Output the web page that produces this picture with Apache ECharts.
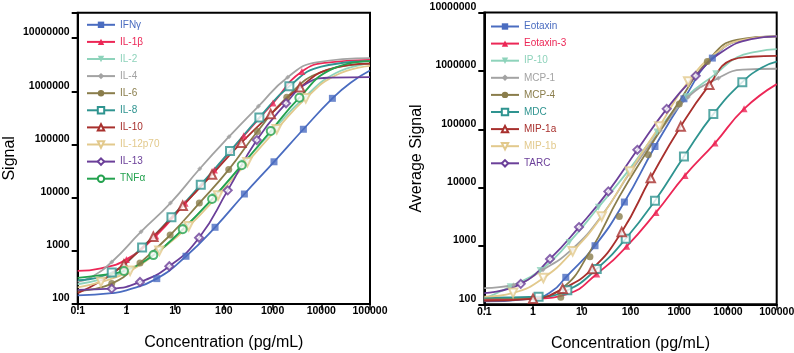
<!DOCTYPE html>
<html>
<head>
<meta charset="utf-8">
<script src="https://cdn.jsdelivr.net/npm/echarts@6/dist/echarts.min.js"></script>
<style>
  html, body { margin: 0; padding: 0; background: #fff; }
  #chart { width: 794px; height: 353px; }
</style>
</head>
<body>
<div id="chart"></div>
<script>
// x ticks (pg/mL) and y ticks, both log axes
const xTicks = [0.1, 1, 10, 100, 1000, 10000, 100000]
const yTicks = [100, 1000, 10000, 100000, 1000000, 10000000]

// ---- left panel: cytokines ----
const leftNames = ['IFNγ', 'IL-1β', 'IL-2', 'IL-4', 'IL-6', 'IL-8', 'IL-10', 'IL-12p70', 'IL-13', 'TNFα']

const ifngPts = [[4.2, 300], [16.7, 790], [66, 2770], [264, 11700], [1070, 47200], [4290, 193000], [16900, 736000]]
const ifngFit = [[0.1, 145], [0.5, 160], [1, 180], [4.2, 300], [16.7, 790], [66, 2770], [264, 11700], [1070, 47200], [4290, 193000], [16900, 736000], [40000, 1450000], [100000, 2450000]]

const il1bPts = [[1, 690], [4, 1900], [16, 7800], [64, 33000], [256, 145000], [1024, 600000], [4000, 2350000]]
const il1bFit = [[0.1, 420], [0.3, 470], [1, 690], [4, 1900], [16, 7800], [64, 33000], [256, 145000], [1024, 600000], [4000, 2350000], [15000, 3500000], [100000, 3900000]]

const il2Pts = [[1, 420], [4, 900], [16, 2800], [64, 10500], [256, 45000], [1024, 185000], [4096, 700000]]
const il2Fit = [[0.1, 235], [0.3, 290], [1, 420], [4, 900], [16, 2800], [64, 10500], [256, 45000], [1024, 185000], [4096, 700000], [20000, 2200000], [100000, 3300000]]

const il4Pts = [[0.5, 617], [2, 2290], [8, 7900], [32, 34900], [128, 140000], [512, 520000], [2048, 1840000]]
const il4Fit = [[0.1, 260], [0.2, 330], [0.5, 617], [2, 2290], [8, 7900], [32, 34900], [128, 140000], [512, 520000], [2048, 1840000], [8000, 3500000], [100000, 4200000]]

const il6Pts = [[0.5, 242], [1.9, 593], [7.9, 1980], [31.4, 7900], [126, 33700], [488, 175000], [1960, 769000]]
const il6Fit = [[0.1, 175], [0.5, 242], [1.9, 593], [7.9, 1980], [31.4, 7900], [126, 33700], [488, 175000], [1960, 769000], [10000, 2300000], [100000, 3300000]]

const il8Pts = [[0.5, 390], [2.1, 1160], [8.4, 4290], [33.6, 17500], [134, 75000], [536, 322000], [2210, 1240000]]
const il8Fit = [[0.1, 280], [0.5, 390], [2.1, 1160], [8.4, 4290], [33.6, 17500], [134, 75000], [536, 322000], [2210, 1240000], [10000, 2900000], [100000, 3700000]]

const il10Pts = [[0.89, 553], [3.57, 1840], [14.3, 7030], [57.3, 27200], [229, 108000], [918, 372000], [3670, 1190000]]
const il10Fit = [[0.1, 160], [0.3, 270], [0.89, 553], [3.57, 1840], [14.3, 7030], [57.3, 27200], [229, 108000], [918, 372000], [3670, 1190000], [15000, 2600000], [100000, 3300000]]

const il12Pts = [[0.3, 260], [1.19, 420], [4.75, 1000], [19, 2900], [76, 11000], [304, 46500], [1220, 193000], [4810, 736000]]
const il12Fit = [[0.1, 205], [0.3, 260], [1.19, 420], [4.75, 1000], [19, 2900], [76, 11000], [304, 46500], [1220, 193000], [4810, 736000], [20000, 2000000], [100000, 3000000]]

const il13Pts = [[0.5, 194], [1.9, 259], [7.6, 513], [31, 1760], [120, 13700], [474, 121000], [1890, 593000]]
const il13Fit = [[0.1, 185], [0.5, 194], [1.9, 259], [7.6, 513], [31, 1760], [120, 13700], [474, 121000], [1890, 593000], [5000, 1400000], [15000, 1800000], [100000, 1850000]]

const tnfaPts = [[0.89, 418], [3.57, 830], [14.3, 2540], [57.3, 9400], [233, 40700], [918, 179000], [3550, 757000]]
const tnfaFit = [[0.1, 310], [0.3, 350], [0.89, 418], [3.57, 830], [14.3, 2540], [57.3, 9400], [233, 40700], [918, 179000], [3550, 757000], [15000, 2500000], [100000, 3700000]]

// ---- right panel: chemokines ----
const rightNames = ['Eotaxin', 'Eotaxin-3', 'IP-10', 'MCP-1', 'MCP-4', 'MDC', 'MIP-1a', 'MIP-1b', 'TARC']

const eotaxinPts = [[4.7, 290], [18.7, 1010], [75, 5660], [318, 50700], [1250, 333000], [4780, 1660000]]
const eotaxinFit = [[0.1, 112], [1, 125], [2.5, 170], [4.7, 290], [18.7, 1010], [75, 5660], [318, 50700], [1250, 333000], [4780, 1660000], [20000, 3400000], [100000, 3900000]]

const eotaxin3Pts = [[20.3, 331], [83.5, 985], [334, 3760], [1316, 16200], [5420, 58100], [21400, 224000]]
const eotaxin3Fit = [[0.1, 120], [1, 125], [5, 150], [20.3, 331], [83.5, 985], [334, 3760], [1316, 16200], [5420, 58100], [21400, 224000], [100000, 594000]]

const ip10Pts = [[0.34, 200], [1.4, 380], [5.5, 1150], [22, 4600], [88, 19000], [350, 90000], [1400, 360000], [5610, 891000]]
const ip10Fit = [[0.1, 125], [0.34, 200], [1.4, 380], [5.5, 1150], [22, 4600], [88, 19000], [350, 90000], [1400, 360000], [5610, 891000], [15000, 1700000], [40000, 2150000], [100000, 2360000]]

const mcp1Pts = [[0.4, 215], [1.6, 390], [6.4, 890], [25.6, 3300], [102, 19000], [410, 95000], [1530, 357000], [6340, 753000]]
const mcp1Fit = [[0.1, 190], [0.4, 215], [1.6, 390], [6.4, 890], [25.6, 3300], [102, 19000], [410, 95000], [1530, 357000], [6340, 753000], [20000, 1050000], [100000, 1090000]]

const mcp4Pts = [[3.7, 132], [14.7, 650], [58.9, 3210], [232, 36600], [1000, 270000], [3770, 1450000]]
const mcp4Fit = [[0.1, 125], [1, 130], [3.7, 180], [14.7, 800], [58.9, 7000], [232, 45000], [1000, 300000], [3770, 1450000], [15000, 3400000], [100000, 3900000]]

const mdcPts = [[1.3, 135], [5.05, 174], [20.3, 404], [79.8, 1330], [318, 5970], [1250, 34200], [5010, 182000], [19700, 643000]]
const mdcFit = [[0.1, 130], [1.3, 135], [5.05, 174], [20.3, 404], [79.8, 1330], [318, 5970], [1250, 34200], [5010, 182000], [19700, 643000], [50000, 1150000], [100000, 1450000]]

const mip1aPts = [[1, 124], [4.06, 184], [16.4, 404], [66, 1740], [260, 14600], [1070, 112000], [4140, 578000]]
const mip1aFit = [[0.1, 115], [1, 124], [4.06, 184], [16.4, 404], [66, 1740], [260, 14600], [1070, 112000], [4140, 578000], [12000, 1550000], [30000, 1750000], [100000, 1810000]]

const mip1bPts = [[0.39, 157], [1.63, 283], [6.52, 809], [25.6, 3210], [97.7, 18900], [390, 112000], [1530, 658000]]
const mip1bFit = [[0.1, 135], [0.39, 157], [1.63, 283], [6.52, 809], [25.6, 3210], [97.7, 18900], [390, 112000], [1530, 658000], [6000, 2100000], [20000, 3400000], [100000, 3900000]]

const tarcPts = [[0.56, 224], [2.23, 599], [8.77, 2110], [35.1, 8610], [138, 44500], [553, 224000], [2180, 824000]]
const tarcFit = [[0.1, 155], [0.56, 224], [2.23, 599], [8.77, 2110], [35.1, 8610], [138, 44500], [553, 224000], [2180, 824000], [8000, 2200000], [30000, 3500000], [100000, 3900000]]

const leftPts = [ifngPts, il1bPts, il2Pts, il4Pts, il6Pts, il8Pts, il10Pts, il12Pts, il13Pts, tnfaPts]
const leftFit = [ifngFit, il1bFit, il2Fit, il4Fit, il6Fit, il8Fit, il10Fit, il12Fit, il13Fit, tnfaFit]
const rightPts = [eotaxinPts, eotaxin3Pts, ip10Pts, mcp1Pts, mcp4Pts, mdcPts, mip1aPts, mip1bPts, tarcPts]
const rightFit = [eotaxinFit, eotaxin3Fit, ip10Fit, mcp1Fit, mcp4Fit, mdcFit, mip1aFit, mip1bFit, tarcFit]

// colours / markers shared by both panels (same order)
const colors = ['#4a6cc0', '#ec2756', '#8ed3bb', '#a3a3a3', '#8a7d4b', '#2f9490', '#a8302d', '#e2c98c', '#6b3f99', '#24a24f']
const markers = [
  { symbol: 'rect', rotate: 0, size: 7 },
  { symbol: 'triangle', rotate: 0, size: 7 },
  { symbol: 'triangle', rotate: 180, size: 7 },
  { symbol: 'diamond', rotate: 0, size: 5 },
  { symbol: 'circle', rotate: 0, size: 7 },
  { symbol: 'emptyRect', rotate: 0, size: 8 },
  { symbol: 'emptyTriangle', rotate: 0, size: 8.5 },
  { symbol: 'emptyTriangle', rotate: 180, size: 8.5 },
  { symbol: 'emptyDiamond', rotate: 0, size: 8 },
  { symbol: 'emptyCircle', rotate: 0, size: 8 }
]

const fontFamily = '"Liberation Sans", Arial, sans-serif'

const isDecade = (v) => Math.abs(Math.log10(v) - Math.round(Math.log10(v))) < 1e-6
const fmt = (v) => (isDecade(v) ? String(Number(v.toPrecision(6))) : '')

const buildSeries = (names, pts, fits, g) => {
  const out = []
  names.forEach((name, i) => {
    const m = markers[i]
    out.push({
      name,
      type: 'line',
      xAxisIndex: g,
      yAxisIndex: g,
      data: fits[i],
      smooth: 0.5,
      showSymbol: false,
      symbol: m.symbol,
      symbolRotate: m.rotate,
      symbolSize: m.size,
      lineStyle: { color: colors[i], width: 1.8 },
      itemStyle: { color: colors[i], borderWidth: 1.5 },
      silent: true,
      z: 2
    })
    out.push({
      name,
      type: 'scatter',
      xAxisIndex: g,
      yAxisIndex: g,
      data: pts[i],
      symbol: m.symbol,
      symbolRotate: m.rotate,
      symbolSize: m.size,
      itemStyle: { color: colors[i], borderColor: colors[i], borderWidth: m.symbol.startsWith('empty') ? 1.5 : 0 },
      z: 3
    })
  })
  return out
}

const xAxis = (g) => ({
  type: 'log',
  logBase: 10,
  gridIndex: g,
  min: xTicks[0],
  max: xTicks[xTicks.length - 1],
  axisLine: { show: true, lineStyle: { color: '#000', width: 2 } },
  axisTick: { show: true, length: 6, lineStyle: { color: '#000', width: 1.5 } },
  axisLabel: { formatter: fmt, fontSize: 10.5, fontWeight: 'bold', color: '#000', margin: 2 },
  splitLine: { show: false },
  name: 'Concentration (pg/mL)',
  nameLocation: 'middle',
  nameGap: 31,
  nameTextStyle: { fontSize: 16, color: '#000' }
})

const yAxis = (g, max, name) => ({
  type: 'log',
  logBase: 10,
  gridIndex: g,
  min: yTicks[0],
  max,
  axisLine: { show: true, lineStyle: { color: '#000', width: 2 } },
  axisTick: { show: true, length: 6, lineStyle: { color: '#000', width: 2 } },
  axisLabel: { formatter: fmt, fontSize: 10.5, fontWeight: 'bold', color: '#000', margin: 8, verticalAlign: 'bottom' },
  splitLine: { show: false },
  name,
  nameLocation: 'middle',
  nameGap: 60,
  nameTextStyle: { fontSize: 16, color: '#000' }
})

const legend = (names, left, top) => ({
  orient: 'vertical',
  left,
  top,
  padding: 0,
  itemWidth: 28,
  itemHeight: 8,
  itemGap: 7.1,
  textStyle: { fontSize: 10, fontFamily },
  data: names.map((n, i) => ({ name: n, textStyle: { color: colors[i] } }))
})

const chart = echarts.init(document.getElementById('chart'))

chart.setOption({
  animation: false,
  textStyle: { fontFamily },
  grid: [
    { left: 77.7, top: 12.7, width: 292.3, height: 291.3, show: true, borderColor: '#000', borderWidth: 2, outerBoundsMode: 'none' },
    { left: 484.3, top: 12.6, width: 292.4, height: 291.7, show: true, borderColor: '#000', borderWidth: 2, outerBoundsMode: 'none' }
  ],
  legend: [
    legend(leftNames, 86, 19.8),
    legend(rightNames, 490, 21.5)
  ],
  xAxis: [xAxis(0), xAxis(1)],
  yAxis: [
    yAxis(0, 30000000, 'Signal'),
    yAxis(1, yTicks[yTicks.length - 1], 'Average Signal')
  ],
  series: [
    ...buildSeries(leftNames, leftPts, leftFit, 0),
    ...buildSeries(rightNames, rightPts, rightFit, 1)
  ]
})
</script>
</body>
</html>
